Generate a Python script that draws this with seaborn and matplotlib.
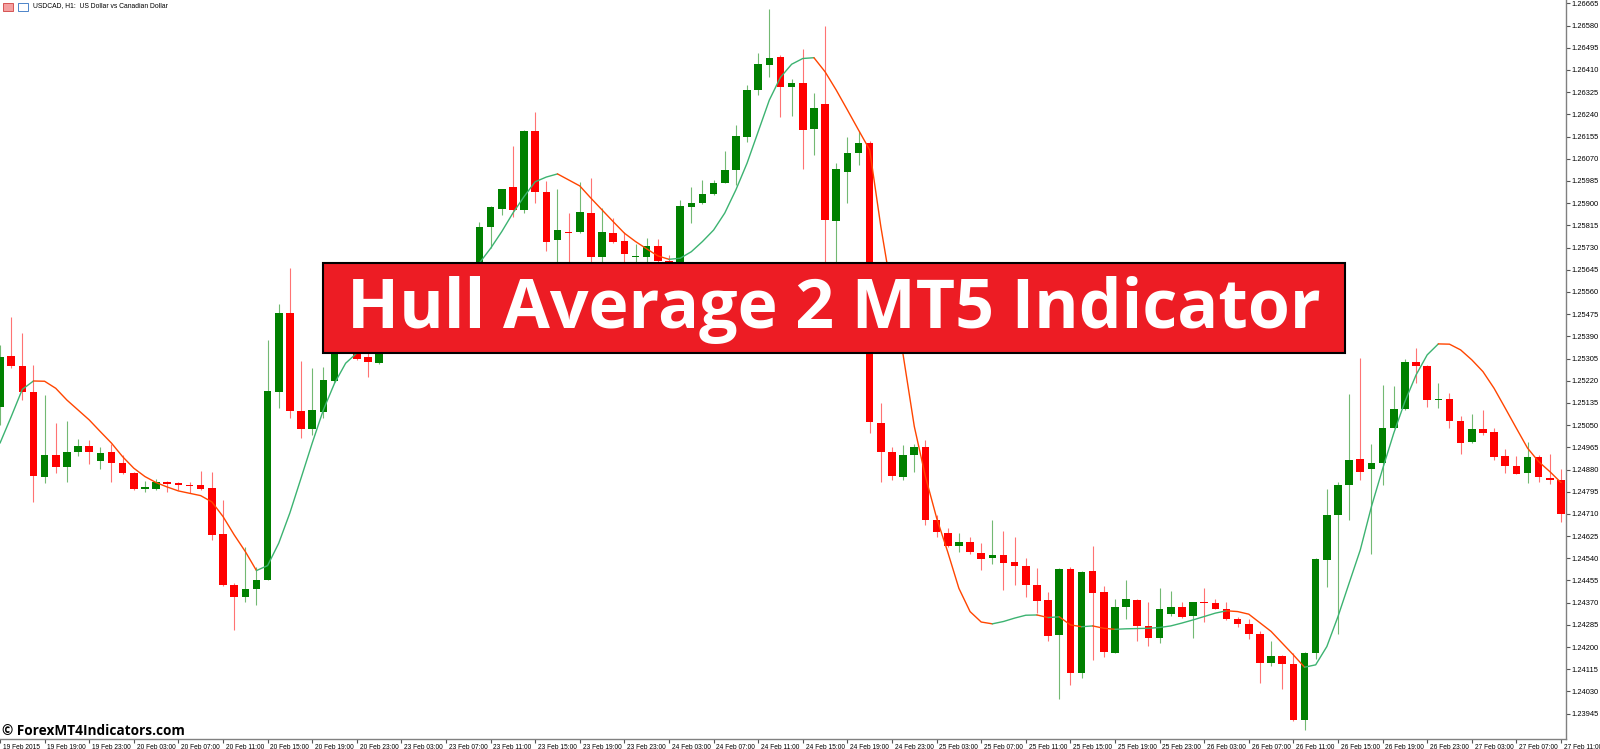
import numpy as np
import pandas as pd
import matplotlib
matplotlib.use('Agg')
import matplotlib.pyplot as plt
import matplotlib.transforms as mtransforms
from matplotlib.patches import Rectangle
import seaborn as sns

# USDCAD H1 candles, 19 Feb 15:00 -> 27 Feb 11:00
opens = [1.25121, 1.25316, 1.25277, 1.25178, 1.24850, 1.24934, 1.24891, 1.24948, 1.24971, 1.24914,
         1.24946, 1.24904, 1.24867, 1.24807, 1.24807, 1.24833, 1.24828, 1.24822, 1.24821, 1.24809,
         1.24633, 1.24439, 1.24392, 1.24421, 1.24457, 1.25178, 1.25478, 1.25104, 1.25034, 1.25102,
         1.25219, 1.25376, 1.25460, 1.25310, 1.25289, 1.25422, 1.25499, 1.25460, 1.25560, 1.25594,
         1.25531, 1.25613, 1.25636, 1.25636, 1.25808, 1.25876, 1.25960, 1.25874, 1.26175, 1.25944,
         1.25759, 1.25791, 1.25789, 1.25864, 1.25695, 1.25785, 1.25756, 1.25693, 1.25695, 1.25736,
         1.25678, 1.25625, 1.25887, 1.25900, 1.25936, 1.25978, 1.26027, 1.26155, 1.26334, 1.26429,
         1.26459, 1.26346, 1.26359, 1.26183, 1.26280, 1.25833, 1.26020, 1.26091, 1.26129, 1.25057,
         1.24948, 1.24853, 1.24936, 1.24968, 1.24687, 1.24638, 1.24587, 1.24604, 1.24562, 1.24540,
         1.24553, 1.24525, 1.24512, 1.24439, 1.24381, 1.24247, 1.24499, 1.24102, 1.24491, 1.24410,
         1.24177, 1.24355, 1.24381, 1.24280, 1.24233, 1.24327, 1.24355, 1.24320, 1.24372, 1.24369,
         1.24345, 1.24307, 1.24290, 1.24251, 1.24138, 1.24167, 1.24134, 1.23921, 1.24177, 1.24533,
         1.24704, 1.24821, 1.24920, 1.24882, 1.24904, 1.25040, 1.25111, 1.25293, 1.25278, 1.25145,
         1.25151, 1.25067, 1.24987, 1.25034, 1.25023, 1.24931, 1.24894, 1.24866, 1.24927, 1.24849,
         1.24840]
highs = [1.25357, 1.25465, 1.25402, 1.25280, 1.25165, 1.25057, 1.25067, 1.24996, 1.24994, 1.24968,
         1.24978, 1.24934, 1.24870, 1.24836, 1.24844, 1.24836, 1.24834, 1.24834, 1.24876, 1.24872,
         1.24764, 1.24445, 1.24585, 1.24508, 1.25376, 1.25514, 1.25652, 1.25296, 1.25270, 1.25274,
         1.25414, 1.25510, 1.25491, 1.25376, 1.25460, 1.25537, 1.25531, 1.25607, 1.25636, 1.25625,
         1.25644, 1.25660, 1.25667, 1.25829, 1.25889, 1.25956, 1.26120, 1.26180, 1.26248, 1.25986,
         1.25953, 1.25862, 1.25982, 1.25995, 1.25880, 1.25842, 1.25790, 1.25744, 1.25766, 1.25762,
         1.25702, 1.25912, 1.25963, 1.25989, 1.25989, 1.26101, 1.26199, 1.26353, 1.26474, 1.26643,
         1.26467, 1.26374, 1.26489, 1.26321, 1.26578, 1.26054, 1.26155, 1.26175, 1.26139, 1.25134,
         1.24968, 1.24974, 1.24976, 1.24994, 1.24706, 1.24656, 1.24638, 1.24623, 1.24598, 1.24687,
         1.24645, 1.24620, 1.24540, 1.24504, 1.24410, 1.24504, 1.24507, 1.24493, 1.24587, 1.24435,
         1.24384, 1.24456, 1.24385, 1.24372, 1.24425, 1.24414, 1.24371, 1.24374, 1.24425, 1.24385,
         1.24372, 1.24314, 1.24309, 1.24260, 1.24225, 1.24170, 1.24177, 1.24183, 1.24540, 1.24805,
         1.24831, 1.25168, 1.25308, 1.24978, 1.25202, 1.25198, 1.25303, 1.25345, 1.25280, 1.25210,
         1.25173, 1.25085, 1.25093, 1.25108, 1.25040, 1.24958, 1.24931, 1.24985, 1.24936, 1.24938,
         1.24882]
lows = [1.25051, 1.25270, 1.25145, 1.24755, 1.24827, 1.24866, 1.24834, 1.24930, 1.24900, 1.24881,
        1.24831, 1.24862, 1.24802, 1.24793, 1.24802, 1.24794, 1.24802, 1.24789, 1.24802, 1.24610,
        1.24435, 1.24265, 1.24374, 1.24360, 1.24455, 1.25117, 1.25076, 1.25002, 1.25012, 1.25078,
        1.25210, 1.25345, 1.25300, 1.25233, 1.25284, 1.25395, 1.25434, 1.25445, 1.25531, 1.25491,
        1.25510, 1.25575, 1.25607, 1.25598, 1.25727, 1.25856, 1.25847, 1.25864, 1.25901, 1.25718,
        1.25644, 1.25663, 1.25785, 1.25671, 1.25663, 1.25748, 1.25671, 1.25671, 1.25671, 1.25663,
        1.25644, 1.25607, 1.25823, 1.25898, 1.25933, 1.25976, 1.25970, 1.26136, 1.26314, 1.26382,
        1.26231, 1.26234, 1.26030, 1.26085, 1.25529, 1.25529, 1.25902, 1.26046, 1.25019, 1.24833,
        1.24840, 1.24840, 1.24872, 1.24668, 1.24622, 1.24583, 1.24566, 1.24555, 1.24496, 1.24517,
        1.24420, 1.24439, 1.24391, 1.24330, 1.24224, 1.24002, 1.24055, 1.24083, 1.24151, 1.24161,
        1.24176, 1.24307, 1.24222, 1.24206, 1.24214, 1.24319, 1.24311, 1.24235, 1.24297, 1.24344,
        1.24302, 1.24275, 1.24231, 1.24064, 1.24127, 1.24040, 1.23917, 1.23883, 1.24156, 1.24430,
        1.24252, 1.24687, 1.24838, 1.24557, 1.24821, 1.25038, 1.25108, 1.25210, 1.25119, 1.25115,
        1.25040, 1.24938, 1.24983, 1.25011, 1.24917, 1.24866, 1.24862, 1.24830, 1.24831, 1.24825,
        1.24679]
closes = [1.25312, 1.25278, 1.25177, 1.24857, 1.24934, 1.24891, 1.24946, 1.24971, 1.24946, 1.24945,
          1.24906, 1.24865, 1.24805, 1.24814, 1.24834, 1.24826, 1.24820, 1.24816, 1.24805, 1.24628,
          1.24439, 1.24392, 1.24421, 1.24458, 1.25181, 1.25478, 1.25105, 1.25035, 1.25108, 1.25223,
          1.25376, 1.25460, 1.25302, 1.25293, 1.25422, 1.25499, 1.25460, 1.25560, 1.25594, 1.25531,
          1.25613, 1.25636, 1.25652, 1.25810, 1.25884, 1.25953, 1.25874, 1.26175, 1.25944, 1.25753,
          1.25797, 1.25785, 1.25865, 1.25693, 1.25789, 1.25753, 1.25705, 1.25698, 1.25736, 1.25678,
          1.25660, 1.25889, 1.25902, 1.25936, 1.25978, 1.26027, 1.26157, 1.26334, 1.26432, 1.26455,
          1.26346, 1.26361, 1.26180, 1.26263, 1.25836, 1.26030, 1.26091, 1.26129, 1.25063, 1.24948,
          1.24855, 1.24936, 1.24968, 1.24687, 1.24641, 1.24587, 1.24604, 1.24566, 1.24538, 1.24553,
          1.24523, 1.24512, 1.24436, 1.24377, 1.24244, 1.24499, 1.24100, 1.24489, 1.24409, 1.24180,
          1.24355, 1.24385, 1.24282, 1.24234, 1.24345, 1.24355, 1.24314, 1.24372, 1.24367, 1.24345,
          1.24307, 1.24290, 1.24251, 1.24140, 1.24165, 1.24136, 1.23921, 1.24177, 1.24536, 1.24704,
          1.24820, 1.24917, 1.24872, 1.24906, 1.25040, 1.25111, 1.25293, 1.25277, 1.25145, 1.25151,
          1.25067, 1.24983, 1.25034, 1.25019, 1.24929, 1.24894, 1.24864, 1.24927, 1.24853, 1.24840,
          1.24710]
# Hull average line values at each bar
hull = [1.24981, 1.25082, 1.25187, 1.25219, 1.25218, 1.25191, 1.25146, 1.25108, 1.25070, 1.25025,
        1.24981, 1.24929, 1.24885, 1.24853, 1.24830, 1.24813, 1.24798, 1.24789, 1.24780, 1.24756,
        1.24700, 1.24630, 1.24566, 1.24493, 1.24512, 1.24598, 1.24714, 1.24847, 1.24981, 1.25108,
        1.25210, 1.25287, 1.25326, 1.25357, 1.25387, 1.25422, 1.25453, 1.25487, 1.25522, 1.25556,
        1.25587, 1.25617, 1.25644, 1.25671, 1.25727, 1.25791, 1.25862, 1.25925, 1.25982, 1.26000,
        1.26012, 1.25989, 1.25966, 1.25919, 1.25874, 1.25829, 1.25785, 1.25753, 1.25725, 1.25698,
        1.25685, 1.25689, 1.25714, 1.25753, 1.25797, 1.25862, 1.25951, 1.26053, 1.26174, 1.26295,
        1.26382, 1.26432, 1.26454, 1.26457, 1.26403, 1.26333, 1.26257, 1.26180, 1.26104, 1.25810,
        1.25555, 1.25319, 1.25045, 1.24853, 1.24695, 1.24564, 1.24425, 1.24336, 1.24296, 1.24289,
        1.24298, 1.24311, 1.24322, 1.24323, 1.24313, 1.24316, 1.24285, 1.24278, 1.24281, 1.24272,
        1.24268, 1.24270, 1.24271, 1.24272, 1.24275, 1.24281, 1.24292, 1.24304, 1.24317, 1.24330,
        1.24339, 1.24336, 1.24326, 1.24293, 1.24260, 1.24215, 1.24170, 1.24123, 1.24132, 1.24202,
        1.24317, 1.24445, 1.24572, 1.24738, 1.24882, 1.25019, 1.25140, 1.25242, 1.25319, 1.25361,
        1.25360, 1.25338, 1.25300, 1.25255, 1.25191, 1.25115, 1.25038, 1.24962, 1.24910, 1.24872,
        1.24830]

time_labels = ['19 Feb 2015', '19 Feb 19:00', '19 Feb 23:00',
               '20 Feb 03:00', '20 Feb 07:00', '20 Feb 11:00', '20 Feb 15:00', '20 Feb 19:00', '20 Feb 23:00',
               '23 Feb 03:00', '23 Feb 07:00', '23 Feb 11:00', '23 Feb 15:00', '23 Feb 19:00', '23 Feb 23:00',
               '24 Feb 03:00', '24 Feb 07:00', '24 Feb 11:00', '24 Feb 15:00', '24 Feb 19:00', '24 Feb 23:00',
               '25 Feb 03:00', '25 Feb 07:00', '25 Feb 11:00', '25 Feb 15:00', '25 Feb 19:00', '25 Feb 23:00',
               '26 Feb 03:00', '26 Feb 07:00', '26 Feb 11:00', '26 Feb 15:00', '26 Feb 19:00', '26 Feb 23:00',
               '27 Feb 03:00', '27 Feb 07:00', '27 Feb 11:00']
price_ticks = [1.23945, 1.24030, 1.24115, 1.24200, 1.24285, 1.24370, 1.24455, 1.24540, 1.24625,
               1.24710, 1.24795, 1.24880, 1.24965, 1.25050, 1.25135, 1.25220, 1.25305, 1.25390,
               1.25475, 1.25560, 1.25645, 1.25730, 1.25815, 1.25900, 1.25985, 1.26070, 1.26155,
               1.26240, 1.26325, 1.26410, 1.26495, 1.26580, 1.26665]

W, H = 1600, 749
BULL, BEAR = '#008000', '#ff0000'
HULL_UP, HULL_DOWN = '#3cb371', '#ff4500'

sns.set_theme(style='white')
plt.rcParams['font.family'] = ['Liberation Sans', 'DejaVu Sans']

df = pd.DataFrame({'open': opens, 'high': highs, 'low': lows, 'close': closes, 'hull': hull})
df['bar'] = np.arange(len(df))
up = df['close'] >= df['open']
colors = np.where(up, BULL, BEAR)

fig = plt.figure(figsize=(W / 100, H / 100), dpi=100)
ax = fig.add_axes([0, 10 / H, 1566 / W, 739 / H])

# wicks and bodies
ax.vlines(df['bar'], df['low'], df['high'], colors=colors, linewidth=0.8, alpha=0.55, zorder=1)
body_low = np.minimum(df['open'], df['close'])
body_h = np.maximum((df['close'] - df['open']).abs(), 0.00005)
ax.bar(df['bar'], body_h, bottom=body_low, width=0.68, color=colors, linewidth=0, zorder=2)

# hull line, coloured by direction
rising = np.diff(df['hull'].values) > 0
start = 0
for i in range(1, len(rising) + 1):
    if i == len(rising) or rising[i] != rising[start]:
        seg = df.iloc[start:i + 1]
        sns.lineplot(data=seg, x='bar', y='hull', ax=ax, color=HULL_UP if rising[start] else HULL_DOWN,
                     linewidth=1.0, zorder=3, estimator=None)
        start = i

ax.set_xlim(0, 140.45)
ax.set_ylim(1.23848, 1.26678)
ax.set_xlabel('')
ax.set_ylabel('')
for s in ['left', 'top']:
    ax.spines[s].set_visible(False)
for s in ['right', 'bottom']:
    ax.spines[s].set_color('#808080')
    ax.spines[s].set_linewidth(1.0)

ax.yaxis.tick_right()
ax.set_yticks(price_ticks)
ax.set_yticklabels([f'{p:.5f}' for p in price_ticks])
ax.tick_params(axis='y', right=True, length=3, width=0.8, color='#555555', labelsize=5.4,
               labelcolor='black', pad=1)

ax.set_xticks(np.arange(0, len(time_labels) * 4, 4))
ax.set_xticklabels(time_labels)
ax.tick_params(axis='x', bottom=True, length=3, width=0.8, color='#555555', labelsize=4.8,
               labelcolor='black', pad=0.5)
offset = mtransforms.ScaledTranslation(2 / 72, 0, fig.dpi_scale_trans)
for lab in ax.get_xticklabels():
    lab.set_horizontalalignment('left')
    lab.set_transform(lab.get_transform() + offset)

# header text with small icons
fig.add_artist(Rectangle((3 / W, 1 - 11 / H), 10 / W, 8 / H, transform=fig.transFigure,
                         facecolor='#f4a0a0', edgecolor='#d04040', linewidth=0.6))
fig.add_artist(Rectangle((18 / W, 1 - 11 / H), 10 / W, 8 / H, transform=fig.transFigure,
                         facecolor='white', edgecolor='#3070c0', linewidth=0.6))
fig.text(33 / W, 1 - 6 / H, 'USDCAD, H1:  US Dollar vs Canadian Dollar', fontsize=4.9,
         color='black', ha='left', va='center')

# banner
fig.add_artist(Rectangle((323 / W, 1 - 353 / H), 1022 / W, 90 / H, transform=fig.transFigure,
                         facecolor='#ed1c24', edgecolor='black', linewidth=1.5, zorder=10))
fig.text(834 / W, 1 - 310 / H, 'Hull Average 2 MT5 Indicator', fontsize=49, fontweight='bold',
         family=['Open Sans', 'DejaVu Sans'], color='white', ha='center', va='center', zorder=11)

fig.text(2 / W, 1 - 731 / H, '\u00a9 ForexMT4Indicators.com', fontsize=9.8, fontweight='bold',
         family=['Open Sans', 'DejaVu Sans'], color='black', ha='left', va='center')

fig.savefig('out.png', dpi=100, facecolor='white')
